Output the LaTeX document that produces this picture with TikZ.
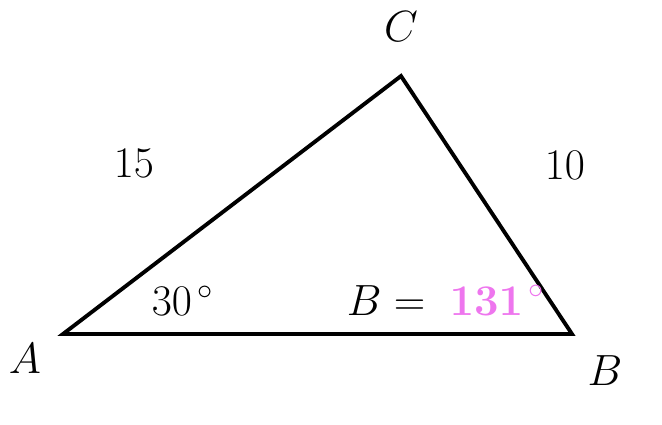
\documentclass[tikz,border=0pt]{standalone}
\usepackage{amsmath,amssymb}
\usepackage{color}
\usetikzlibrary{positioning}
\definecolor{anglepink}{RGB}{238,118,238}

\begin{document}
\begin{tikzpicture}[x=0.02cm,y=-0.02cm,line width=2.2pt,
    vertex/.style={inner sep=0pt,font=\fontsize{23}{28}\selectfont},
    side/.style={inner sep=0pt,font=\fontsize{26}{30}\selectfont}]
  \useasboundingbox (0,0) rectangle (662,424);
  \coordinate (a) at (63,334);
  \coordinate (b) at (572,334);
  \coordinate (c) at (401,76);
  \draw[line join=miter] (a) -- (b) -- (c) -- cycle;
  \node[vertex] (la) at (25,359) {$A$};
  \node[vertex] (lb) at (605,371) {$B$};
  \node[vertex] (lc) at (401,27) {$C$};
  \node[side] (ac) at (134,163) {$15$};
  \node[side] (bc) at (565,165) {$10$};
  \node[side,anchor=base west] (anga) at (150,315) {$30^{\,\circ}$};
  \node[side,anchor=base west] (angb) at (345,315)
    {$B =\; \textcolor{anglepink}{\mathbf{131}^{\,\circ}}$};
\end{tikzpicture}
\end{document}
